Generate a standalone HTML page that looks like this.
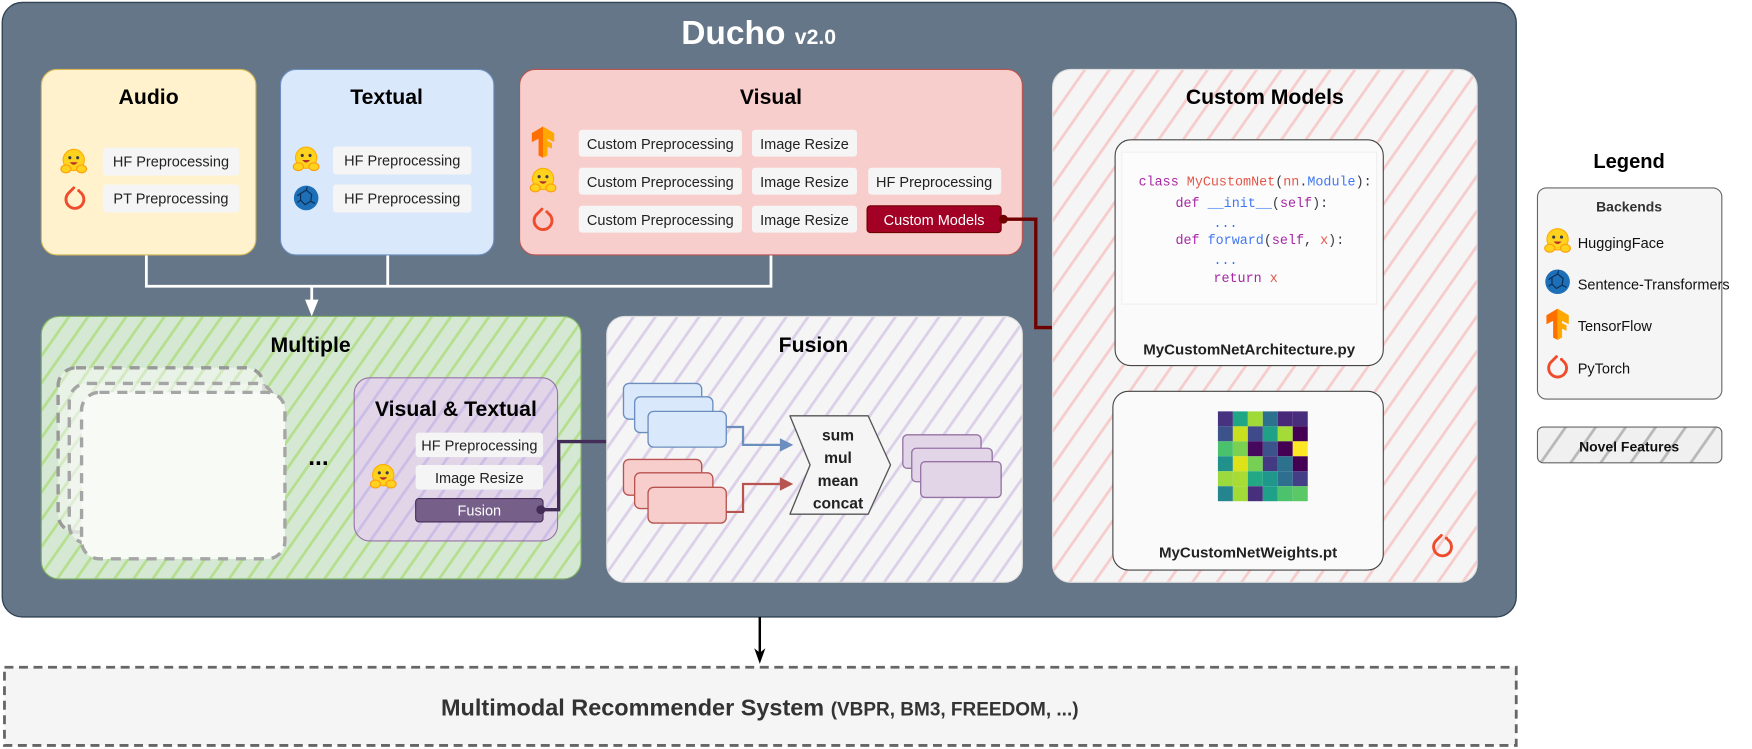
<!DOCTYPE html>
<html><head><meta charset="utf-8">
<style>
html,body{margin:0;padding:0;background:#fff;}
svg{display:block;}
text{font-family:"Liberation Sans",Arial,sans-serif;}
text.mono{font-family:"Liberation Mono","DejaVu Sans Mono",monospace;}
</style></head>
<body>
<svg width="1752" height="749" viewBox="0 0 1568 670" xmlns="http://www.w3.org/2000/svg">
<defs>
<pattern id="hg" width="14" height="14" patternUnits="userSpaceOnUse" patternTransform="rotate(35)">
<rect width="14" height="14" fill="#d5e8d4"/><line x1="3" y1="0" x2="3" y2="14" stroke="#b5df8f" stroke-width="2.5"/></pattern>
<pattern id="hp" width="16" height="16" patternUnits="userSpaceOnUse" patternTransform="rotate(35)">
<rect width="16" height="16" fill="#f5f5f5"/><line x1="3" y1="0" x2="3" y2="16" stroke="#dccfe8" stroke-width="2.5"/></pattern>
<pattern id="hr" width="18" height="18" patternUnits="userSpaceOnUse" patternTransform="rotate(35)">
<rect width="18" height="18" fill="#f5f5f5"/><line x1="3" y1="0" x2="3" y2="18" stroke="#f6cccc" stroke-width="2.5"/></pattern>
<pattern id="hv" width="14" height="14" patternUnits="userSpaceOnUse" patternTransform="rotate(35)">
<rect width="14" height="14" fill="#e1d5e7"/><line x1="3" y1="0" x2="3" y2="14" stroke="#cbbde6" stroke-width="2.5"/></pattern>
<pattern id="hl" width="22" height="22" patternUnits="userSpaceOnUse" patternTransform="rotate(35)">
<rect width="22" height="22" fill="#f0f0f0"/><line x1="3" y1="0" x2="3" y2="22" stroke="#b8b8b8" stroke-width="2.5"/></pattern>
<pattern id="hw" width="14" height="14" patternUnits="userSpaceOnUse" patternTransform="rotate(35)">
<rect width="14" height="14" fill="#f4f8f2"/><line x1="3" y1="0" x2="3" y2="14" stroke="#e6efe0" stroke-width="2.5"/></pattern>
<g id="hf">
<circle cx="0" cy="-1" r="9.5" fill="#ffd21e" stroke="#ffac03" stroke-width="1"/>
<circle cx="-3.5" cy="-3" r="1.4" fill="#3a3b45"/><circle cx="3.5" cy="-3" r="1.4" fill="#3a3b45"/>
<path d="M-3.5 1 Q0 5.5 3.5 1 Z" fill="#b4322c"/>
<ellipse cx="-7" cy="7" rx="4.5" ry="3.5" fill="#ffd21e" stroke="#ff9d0b" stroke-width="1"/>
<ellipse cx="7" cy="7" rx="4.5" ry="3.5" fill="#ffd21e" stroke="#ff9d0b" stroke-width="1"/>
</g>
<g id="pt">
<path d="M-1 -10 L-6 -5 A8 8 0 1 0 5 -6" fill="none" stroke="#ee4c2c" stroke-width="2.6" stroke-linecap="round"/>
<circle cx="3.5" cy="-7.5" r="1.4" fill="#ee4c2c"/>
</g>
<g id="tf">
<path d="M-10 -8 L0 -14 L0 14 L-4 12 L-4 -3 L-10 0 Z" fill="#ff6f00"/>
<path d="M10 -8 L0 -14 L0 14 L4 12 L4 4 L8 6 L8 1 L4 -1 L4 -3 L10 0 Z" fill="#ffa800"/>
</g>
<g id="st">
<circle cx="0" cy="0" r="11" fill="#1d6fb8"/>
<path d="M-5 -4 L0 -7 L5 -3 L4 3 L-1 6 L-5 2 Z M0 -7 L1 -10 M4 3 L8 5 M-5 2 L-8 4 M-5 -4 L-8 -2" fill="none" stroke="#0c2d52" stroke-width="1"/>
</g>
</defs>

<rect x="2" y="2" width="1355" height="550" rx="18" fill="#647687" stroke="#314354" stroke-width="1.2"/>
<text x="679" y="39" text-anchor="middle" fill="#fff" font-weight="bold" font-size="30">Ducho <tspan font-size="19">v2.0</tspan></text>

<path d="M131 228 V256 H690 V228 M347 228 V256 M279 256 V275" fill="none" stroke="#fff" stroke-width="2.5"/>
<path d="M273 268 L279 283 L285 268 Z" fill="#fff"/>

<!-- Audio -->
<rect x="37" y="62" width="192" height="166" rx="14" fill="#fff2cc" stroke="#d6b656"/>
<text x="133" y="93" text-anchor="middle" font-weight="bold" font-size="19">Audio</text>
<use href="#hf" x="66" y="144"/>
<use href="#pt" x="67" y="178"/>
<rect x="92" y="132" width="122" height="25" rx="3" fill="#f5f5f5"/>
<text x="153" y="149" text-anchor="middle" font-size="13" fill="#222">HF Preprocessing</text>
<rect x="92" y="165" width="122" height="25" rx="3" fill="#f5f5f5"/>
<text x="153" y="182" text-anchor="middle" font-size="13" fill="#222">PT Preprocessing</text>

<!-- Textual -->
<rect x="251" y="62" width="191" height="166" rx="14" fill="#dae8fc" stroke="#6c8ebf"/>
<text x="346" y="93" text-anchor="middle" font-weight="bold" font-size="19">Textual</text>
<use href="#hf" x="274" y="142"/>
<use href="#st" x="274" y="177"/>
<rect x="298" y="131" width="124" height="25" rx="3" fill="#f5f5f5"/>
<text x="360" y="148" text-anchor="middle" font-size="13" fill="#222">HF Preprocessing</text>
<rect x="298" y="165" width="124" height="25" rx="3" fill="#f5f5f5"/>
<text x="360" y="182" text-anchor="middle" font-size="13" fill="#222">HF Preprocessing</text>

<!-- Visual -->
<rect x="465" y="62" width="450" height="166" rx="14" fill="#f8cecc" stroke="#b85450"/>
<text x="690" y="93" text-anchor="middle" font-weight="bold" font-size="19">Visual</text>
<use href="#tf" x="486" y="127"/>
<use href="#hf" x="486" y="161"/>
<use href="#pt" x="486" y="197"/>
<g font-size="13" fill="#222" text-anchor="middle">
<rect x="518" y="116" width="146" height="24" rx="3" fill="#f5f5f5"/><text x="591" y="133">Custom Preprocessing</text>
<rect x="673" y="116" width="94" height="24" rx="3" fill="#f5f5f5"/><text x="720" y="133">Image Resize</text>
<rect x="518" y="150" width="146" height="24" rx="3" fill="#f5f5f5"/><text x="591" y="167">Custom Preprocessing</text>
<rect x="673" y="150" width="94" height="24" rx="3" fill="#f5f5f5"/><text x="720" y="167">Image Resize</text>
<rect x="777" y="150" width="119" height="24" rx="3" fill="#f5f5f5"/><text x="836" y="167">HF Preprocessing</text>
<rect x="518" y="184" width="146" height="24" rx="3" fill="#f5f5f5"/><text x="591" y="201">Custom Preprocessing</text>
<rect x="673" y="184" width="94" height="24" rx="3" fill="#f5f5f5"/><text x="720" y="201">Image Resize</text>
<rect x="776" y="184" width="120" height="24" rx="3" fill="#a20025" stroke="#6f0000"/><text x="836" y="201" fill="#fff">Custom Models</text>
</g>

<path d="M898 196 H927 V293 H942" fill="none" stroke="#6f0000" stroke-width="3"/>
<circle cx="898" cy="196" r="4" fill="#6f0000"/>

<!-- Custom Models -->
<rect x="942" y="62" width="380" height="459" rx="16" fill="url(#hr)" stroke="#ddd"/>
<text x="1132" y="93" text-anchor="middle" font-weight="bold" font-size="19">Custom Models</text>
<rect x="998" y="125" width="240" height="202" rx="14" fill="#fafafa" stroke="#444"/>
<rect x="1004" y="136" width="228" height="136" fill="#fcfcfc" stroke="#f0f0f0"/>
<text class="mono" font-size="12" x="1019" y="166"><tspan fill="#a626a4">class </tspan><tspan fill="#e45649">MyCustomNet</tspan><tspan fill="#383a42">(</tspan><tspan fill="#e45649">nn</tspan><tspan fill="#383a42">.</tspan><tspan fill="#4078f2">Module</tspan><tspan fill="#383a42">):</tspan></text>
<text class="mono" font-size="12" x="1052" y="185"><tspan fill="#a626a4">def </tspan><tspan fill="#4078f2">__init__</tspan><tspan fill="#383a42">(</tspan><tspan fill="#a626a4">self</tspan><tspan fill="#383a42">):</tspan></text>
<text class="mono" font-size="12" x="1086" y="203" fill="#4078f2">...</text>
<text class="mono" font-size="12" x="1052" y="218"><tspan fill="#a626a4">def </tspan><tspan fill="#4078f2">forward</tspan><tspan fill="#383a42">(</tspan><tspan fill="#a626a4">self</tspan><tspan fill="#383a42">, </tspan><tspan fill="#e45649">x</tspan><tspan fill="#383a42">):</tspan></text>
<text class="mono" font-size="12" x="1086" y="236" fill="#4078f2">...</text>
<text class="mono" font-size="12" x="1086" y="252"><tspan fill="#a626a4">return </tspan><tspan fill="#e45649">x</tspan></text>
<text x="1118" y="317" text-anchor="middle" font-weight="bold" font-size="13.5" fill="#222">MyCustomNetArchitecture.py</text>
<rect x="996" y="350" width="242" height="160" rx="14" fill="#fafafa" stroke="#444"/>
<g>
<rect x="1090" y="368" width="13.4" height="13.4" fill="#46327e"/><rect x="1103.4" y="368" width="13.4" height="13.4" fill="#21a685"/><rect x="1116.8" y="368" width="13.4" height="13.4" fill="#a0da39"/><rect x="1130.2" y="368" width="13.4" height="13.4" fill="#2c728e"/><rect x="1143.6" y="368" width="13.4" height="13.4" fill="#482878"/><rect x="1157" y="368" width="13.4" height="13.4" fill="#472d7b"/>
<rect x="1090" y="381.4" width="13.4" height="13.4" fill="#3b528b"/><rect x="1103.4" y="381.4" width="13.4" height="13.4" fill="#c8e020"/><rect x="1116.8" y="381.4" width="13.4" height="13.4" fill="#3e4a89"/><rect x="1130.2" y="381.4" width="13.4" height="13.4" fill="#1fa187"/><rect x="1143.6" y="381.4" width="13.4" height="13.4" fill="#a5db36"/><rect x="1157" y="381.4" width="13.4" height="13.4" fill="#440154"/>
<rect x="1090" y="394.8" width="13.4" height="13.4" fill="#4ac16d"/><rect x="1103.4" y="394.8" width="13.4" height="13.4" fill="#7ad151"/><rect x="1116.8" y="394.8" width="13.4" height="13.4" fill="#46085c"/><rect x="1130.2" y="394.8" width="13.4" height="13.4" fill="#3b528b"/><rect x="1143.6" y="394.8" width="13.4" height="13.4" fill="#440154"/><rect x="1157" y="394.8" width="13.4" height="13.4" fill="#fde725"/>
<rect x="1090" y="408.2" width="13.4" height="13.4" fill="#21918c"/><rect x="1103.4" y="408.2" width="13.4" height="13.4" fill="#dde318"/><rect x="1116.8" y="408.2" width="13.4" height="13.4" fill="#75d054"/><rect x="1130.2" y="408.2" width="13.4" height="13.4" fill="#443983"/><rect x="1143.6" y="408.2" width="13.4" height="13.4" fill="#2c728e"/><rect x="1157" y="408.2" width="13.4" height="13.4" fill="#440154"/>
<rect x="1090" y="421.6" width="13.4" height="13.4" fill="#9bd93c"/><rect x="1103.4" y="421.6" width="13.4" height="13.4" fill="#a8db34"/><rect x="1116.8" y="421.6" width="13.4" height="13.4" fill="#22a884"/><rect x="1130.2" y="421.6" width="13.4" height="13.4" fill="#1f988b"/><rect x="1143.6" y="421.6" width="13.4" height="13.4" fill="#2e6e8e"/><rect x="1157" y="421.6" width="13.4" height="13.4" fill="#433e85"/>
<rect x="1090" y="435" width="13.4" height="13.4" fill="#25858e"/><rect x="1103.4" y="435" width="13.4" height="13.4" fill="#a2da37"/><rect x="1116.8" y="435" width="13.4" height="13.4" fill="#46307e"/><rect x="1130.2" y="435" width="13.4" height="13.4" fill="#1fa088"/><rect x="1143.6" y="435" width="13.4" height="13.4" fill="#4cc26c"/><rect x="1157" y="435" width="13.4" height="13.4" fill="#5ac864"/>
</g>
<text x="1117" y="499" text-anchor="middle" font-weight="bold" font-size="13.5" fill="#222">MyCustomNetWeights.pt</text>
<use href="#pt" x="1291" y="489"/>

<!-- Multiple -->
<rect x="37" y="283" width="483" height="235" rx="16" fill="url(#hg)" stroke="#82b366"/>
<text x="278" y="315" text-anchor="middle" font-weight="bold" font-size="19">Multiple</text>
<rect x="52" y="329" width="184" height="147" rx="16" fill="url(#hw)" fill-opacity="0.6" stroke="#999" stroke-width="3" stroke-dasharray="9,7"/>
<rect x="62" y="343" width="183" height="143" rx="16" fill="url(#hw)" fill-opacity="0.7" stroke="#a5a5a5" stroke-width="3" stroke-dasharray="9,7"/>
<rect x="73" y="351" width="182" height="149" rx="16" fill="#f7faf5" stroke="#a5a5a5" stroke-width="3" stroke-dasharray="9,7"/>
<text x="285" y="416" text-anchor="middle" font-weight="bold" font-size="22">...</text>
<rect x="317" y="338" width="182" height="146" rx="14" fill="url(#hv)" stroke="#9673a6"/>
<text x="408" y="372" text-anchor="middle" font-weight="bold" font-size="19">Visual &amp; Textual</text>
<use href="#hf" x="343" y="426"/>
<rect x="372" y="387" width="114" height="22" rx="3" fill="#f5f5f5"/>
<text x="429" y="403" text-anchor="middle" font-size="13" fill="#222">HF Preprocessing</text>
<rect x="372" y="416" width="114" height="22" rx="3" fill="#f5f5f5"/>
<text x="429" y="432" text-anchor="middle" font-size="13" fill="#222">Image Resize</text>
<rect x="372" y="446" width="114" height="21" rx="3" fill="#76608a" stroke="#432d57"/>
<text x="429" y="461" text-anchor="middle" font-size="13" fill="#fff">Fusion</text>
<path d="M484 456 H500 V395 H543" fill="none" stroke="#432d57" stroke-width="3"/>
<circle cx="484" cy="456" r="4" fill="#432d57"/>

<!-- Fusion -->
<rect x="543" y="283" width="372" height="238" rx="16" fill="url(#hp)" stroke="#ddd"/>
<text x="728" y="315" text-anchor="middle" font-weight="bold" font-size="19">Fusion</text>
<g stroke="#6c8ebf" fill="#dae8fc" stroke-width="1.2">
<rect x="558" y="343" width="70" height="32" rx="5"/>
<rect x="568" y="355" width="70" height="32" rx="5"/>
<rect x="580" y="368" width="70" height="32" rx="5"/>
</g>
<g stroke="#b85450" fill="#f8cecc" stroke-width="1.2">
<rect x="558" y="411" width="70" height="32" rx="5"/>
<rect x="568" y="423" width="70" height="32" rx="5"/>
<rect x="580" y="436" width="70" height="32" rx="5"/>
</g>
<path d="M650 382 H665 V398 H700" fill="none" stroke="#6c8ebf" stroke-width="2"/>
<path d="M698 392 L710 398 L698 404 Z" fill="#6c8ebf"/>
<path d="M650 458 H665 V433 H700" fill="none" stroke="#b85450" stroke-width="2"/>
<path d="M698 427 L710 433 L698 439 Z" fill="#b85450"/>
<path d="M707 372 H777 L797 416 L777 460 H707 L725 416 Z" fill="#f5f5f5" stroke="#555" stroke-width="1.2" stroke-linejoin="round"/>
<g font-weight="bold" font-size="14" text-anchor="middle" fill="#222">
<text x="750" y="394">sum</text><text x="750" y="414">mul</text><text x="750" y="435">mean</text><text x="750" y="455">concat</text>
</g>
<g stroke="#9673a6" fill="#e1d5e7" stroke-width="1.2">
<rect x="808" y="389" width="70" height="30" rx="4"/>
<rect x="816" y="401" width="72" height="30" rx="4"/>
<rect x="824" y="413" width="72" height="32" rx="4"/>
</g>

<path d="M680 552 V588" stroke="#000" stroke-width="2.2"/>
<path d="M675 580 L680 594 L685 580 L680 584 Z" fill="#000"/>
<rect x="4" y="597" width="1353" height="70" fill="#f5f5f5" stroke="#666" stroke-width="2.5" stroke-dasharray="8,5"/>
<text x="680" y="640" text-anchor="middle" font-weight="bold" font-size="21" fill="#333">Multimodal Recommender System <tspan font-size="17">(VBPR, BM3, FREEDOM, ...)</tspan></text>

<!-- Legend -->
<text x="1458" y="150" text-anchor="middle" font-weight="bold" font-size="18">Legend</text>
<rect x="1376" y="168" width="165" height="189" rx="8" fill="#f5f5f5" stroke="#666"/>
<text x="1458" y="189" text-anchor="middle" font-weight="bold" font-size="12.5" fill="#333">Backends</text>
<use href="#hf" x="1394" y="215"/>
<use href="#st" x="1394" y="252"/>
<use href="#tf" x="1394" y="290"/>
<use href="#pt" x="1394" y="329"/>
<g font-size="13" fill="#111">
<text x="1412" y="222">HuggingFace</text>
<text x="1412" y="259">Sentence-Transformers</text>
<text x="1412" y="296">TensorFlow</text>
<text x="1412" y="334">PyTorch</text>
</g>
<rect x="1376" y="382" width="165" height="32" rx="5" fill="url(#hl)" stroke="#666"/>
<text x="1458" y="404" text-anchor="middle" font-weight="bold" font-size="12.5" fill="#111">Novel Features</text>
</svg>
</body></html>
